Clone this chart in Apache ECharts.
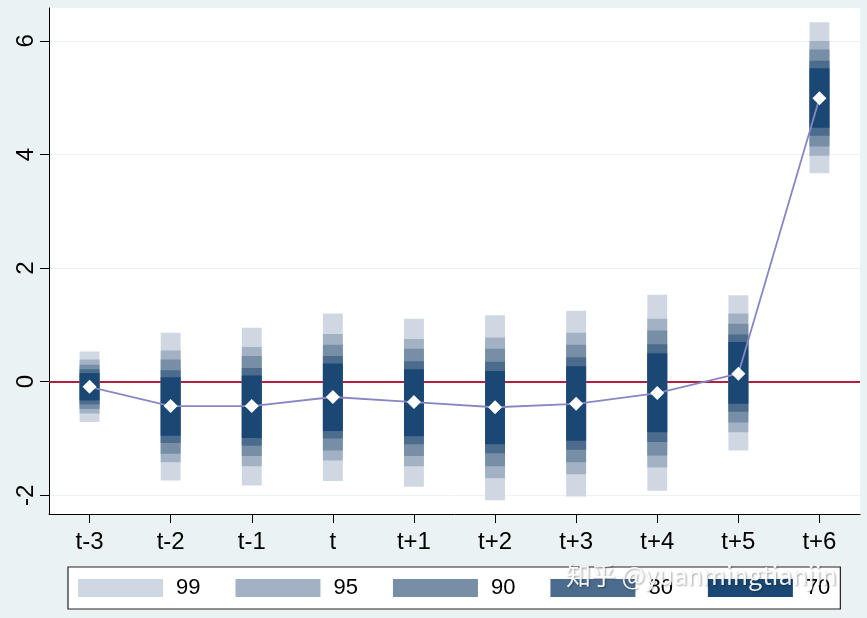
<!DOCTYPE html>
<html>
<head>
<meta charset="utf-8">
<script src="https://cdn.jsdelivr.net/npm/echarts@6/dist/echarts.min.js"></script>
<style>
html,body{margin:0;padding:0;background:#EAF2F3;}
#chart{width:867px;height:618px;}
</style>
</head>
<body>
<div id="chart"></div>
<script>
const categories = ['t-3','t-2','t-1','t','t+1','t+2','t+3','t+4','t+5','t+6'];
const yTicks = [-2, 0, 2, 4, 6];
const levels = ['99','95','90','80','70'];
const pointEst = [-0.09, -0.43, -0.43, -0.27, -0.36, -0.45, -0.39, -0.20, 0.14, 4.99];
const ci99Lo = [-0.71, -1.74, -1.83, -1.75, -1.85, -2.09, -2.02, -1.92, -1.21, 3.67];
const ci99Hi = [0.53, 0.86, 0.95, 1.20, 1.11, 1.17, 1.25, 1.53, 1.52, 6.33];
const ci95Lo = [-0.56, -1.42, -1.49, -1.39, -1.49, -1.70, -1.63, -1.51, -0.89, 3.98];
const ci95Hi = [0.39, 0.55, 0.61, 0.84, 0.75, 0.78, 0.86, 1.11, 1.20, 6.00];
const ci90Lo = [-0.48, -1.27, -1.31, -1.21, -1.31, -1.49, -1.42, -1.30, -0.72, 4.14];
const ci90Hi = [0.30, 0.39, 0.45, 0.65, 0.58, 0.58, 0.65, 0.90, 1.02, 5.85];
const ci80Lo = [-0.40, -1.08, -1.13, -1.00, -1.10, -1.26, -1.20, -1.06, -0.53, 4.33];
const ci80Hi = [0.22, 0.20, 0.24, 0.45, 0.36, 0.35, 0.43, 0.66, 0.83, 5.65];
const ci70Lo = [-0.33, -0.95, -0.99, -0.87, -0.96, -1.10, -1.04, -0.89, -0.39, 4.47];
const ci70Hi = [0.15, 0.08, 0.11, 0.32, 0.22, 0.19, 0.27, 0.50, 0.70, 5.52];

const ciLo = {'99': ci99Lo, '95': ci95Lo, '90': ci90Lo, '80': ci80Lo, '70': ci70Lo};
const ciHi = {'99': ci99Hi, '95': ci95Hi, '90': ci90Hi, '80': ci80Hi, '70': ci70Hi};
const levelColors = {'99': '#CFD8E2', '95': '#A2B2C4', '90': '#768EA6', '80': '#4B6C8D', '70': '#1B4774'};

const FONT = "'Liberation Sans', Arial, sans-serif";

function renderBar(params, api) {
  const x = api.value(0), lo = api.value(1), hi = api.value(2);
  const pTop = api.coord([x, hi]);
  const pBot = api.coord([x, lo]);
  const w = api.size([1, 0])[0] * 0.245;
  return {
    type: 'rect',
    shape: { x: pTop[0] - w / 2, y: pTop[1], width: w, height: pBot[1] - pTop[1] },
    style: { fill: api.visual('color') }
  };
}

const ciSeries = levels.map((lv, k) => ({
  name: lv,
  type: 'custom',
  renderItem: renderBar,
  itemStyle: { color: levelColors[lv] },
  encode: { x: 0, y: [1, 2] },
  z: 3 + k,
  silent: true,
  data: categories.map((c, i) => [i, ciLo[lv][i], ciHi[lv][i]])
}));

const chart = echarts.init(document.getElementById('chart'));
chart.setOption({
  backgroundColor: '#EAF2F3',
  animation: false,
  grid: {
    left: 49, right: 7, top: 8, bottom: 104,
    show: true, backgroundColor: '#FFFFFF', borderWidth: 0
  },
  legend: {
    data: levels.map(l => ({ name: l, icon: 'rect' })),
    left: 68, top: 567,
    orient: 'horizontal',
    itemWidth: 85, itemHeight: 18, itemGap: 35,
    padding: [10, 10, 10, 10],
    backgroundColor: '#FFFFFF',
    borderColor: '#222222', borderWidth: 1.2,
    selectedMode: false,
    textStyle: { fontFamily: FONT, fontSize: 22, color: '#000', padding: [0, 0, 0, 8] }
  },
  xAxis: {
    type: 'category',
    data: categories,
    boundaryGap: true,
    axisLine: { show: true, onZero: false, lineStyle: { color: '#000', width: 1 } },
    axisTick: { show: true, alignWithLabel: true, length: 9, lineStyle: { color: '#000' } },
    axisLabel: { fontFamily: FONT, fontSize: 24, color: '#000', margin: 16 },
    splitLine: { show: false }
  },
  yAxis: {
    type: 'value',
    min: -2.33, max: 6.58,
    axisLine: { show: true, onZero: false, lineStyle: { color: '#000', width: 1 } },
    axisTick: { show: true, length: 9, lineStyle: { color: '#000' }, customValues: yTicks },
    axisLabel: { fontFamily: FONT, fontSize: 24, color: '#000', rotate: 90, margin: 11, customValues: yTicks },
    splitLine: { show: true, lineStyle: { color: '#EAF2F3', width: 1 } }
  },
  series: [
    {
      name: 'zero',
      type: 'line',
      data: [],
      z: 1,
      silent: true,
      markLine: {
        silent: true,
        symbol: ['none', 'none'],
        label: { show: false },
        lineStyle: { color: '#B01F3B', width: 2, type: 'solid' },
        data: [{ yAxis: 0 }]
      }
    },
    ...ciSeries,
    {
      name: 'coefLine',
      type: 'line',
      data: pointEst,
      symbol: 'none',
      lineStyle: { color: '#8787C4', width: 1.8 },
      z: 10,
      silent: true
    },
    {
      name: 'coef',
      type: 'scatter',
      data: pointEst,
      symbol: 'diamond',
      symbolSize: 14,
      itemStyle: { color: '#FFFFFF', opacity: 1 },
      z: 11,
      silent: true
    }
  ],
  graphic: [{
    type: 'text',
    left: 566, top: 563,
    z: 100,
    style: {
      text: '知乎 @yuanmingtianjin',
      font: "25px 'Noto Sans CJK SC', sans-serif",
      fill: 'rgba(255,255,255,0.92)',
      textShadowColor: 'rgba(0,0,0,0.4)',
      textShadowBlur: 2,
      textShadowOffsetX: 1,
      textShadowOffsetY: 1
    }
  }]
});
</script>
</body>
</html>
